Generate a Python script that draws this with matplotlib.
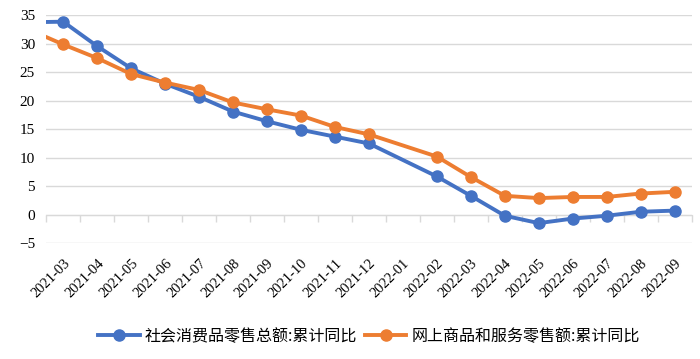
import matplotlib.pyplot as plt
import numpy as np

# data (2021-02 point sits just outside the left edge, 2022-01 has no value)
months = ['2021-02', '2021-03', '2021-04', '2021-05', '2021-06', '2021-07', '2021-08',
          '2021-09', '2021-10', '2021-11', '2021-12', '2022-01', '2022-02', '2022-03',
          '2022-04', '2022-05', '2022-06', '2022-07', '2022-08', '2022-09']
retail_total = [33.8, 33.9, 29.6, 25.7, 23.0, 20.7, 18.1, 16.4, 14.9, 13.7, 12.5,
                np.nan, 6.7, 3.3, -0.2, -1.5, -0.7, -0.2, 0.5, 0.7]
online_retail = [32.5, 29.9, 27.5, 24.7, 23.2, 21.9, 19.7, 18.5, 17.4, 15.4, 14.1,
                 np.nan, 10.2, 6.6, 3.3, 2.9, 3.1, 3.1, 3.7, 4.0]
label_blue = '社会消费品零售总额:累计同比'
label_orange = '网上商品和服务零售额:累计同比'

plt.rcParams['font.family'] = ['Liberation Serif', 'Noto Sans CJK SC', 'DejaVu Sans']

fig = plt.figure(figsize=(7, 3.59), dpi=100)
ax = fig.add_axes([0.066, 0.323, 0.922, 0.634])

x = np.arange(len(months)) - 1  # 2021-03 at 0
for vals, col, lab in [(retail_total, '#4472C4', label_blue),
                       (online_retail, '#ED7D31', label_orange)]:
    v = np.array(vals, dtype=float)
    ok = ~np.isnan(v)
    ax.plot(x[ok], v[ok], color=col, lw=2.8, marker='o', ms=8, label=lab, zorder=3)

ax.set_xlim(-0.5, len(months) - 1.5)
ax.set_ylim(-5, 35)
ax.set_yticks(np.arange(-5, 36, 5))
ax.grid(axis='y', color='#D9D9D9', lw=1)
ax.set_axisbelow(True)
for s in ax.spines.values():
    s.set_visible(False)
ax.tick_params(axis='y', length=0, labelsize=11, pad=8)

ax.set_xticks(x[1:])
ax.set_xticklabels(months[1:], rotation=45, ha='right', rotation_mode='anchor', fontsize=10.5)
ax.tick_params(axis='x', length=0, pad=10)

# category axis line at y=0 with boundary ticks
sec = ax.secondary_xaxis(5 / 40)
sec.spines['bottom'].set_color('#D9D9D9')
sec.set_xticks(np.arange(-0.5, len(months) - 1, 1.0))
sec.set_xticklabels([])
sec.tick_params(axis='x', direction='out', length=5, color='#D9D9D9', width=1)

ax.legend(loc='upper center', bbox_to_anchor=(0.5, -0.31), ncol=2, frameon=False,
          prop={'family': ['Noto Sans CJK SC', 'DejaVu Sans'], 'size': 11.5},
          handlelength=2.6, columnspacing=0.5, handletextpad=0.3)

fig.savefig('out.png', dpi=100)
